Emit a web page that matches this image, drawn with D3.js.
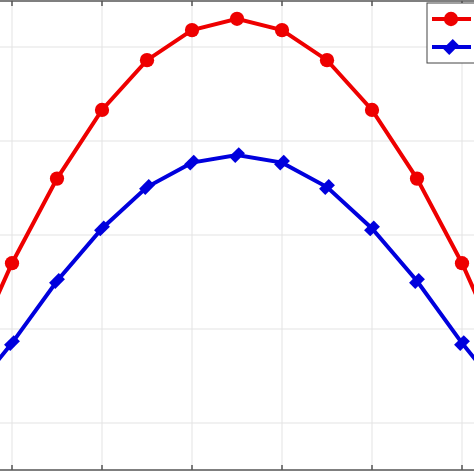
<!DOCTYPE html>
<meta charset="utf-8">
<style>body{margin:0;background:#fff}</style>
<script src="https://d3js.org/d3.v7.min.js"></script>
<div id="chart"></div>
<script>
    // data (x in half-grid steps, one point off each edge)
    var xs = [-0.5, 0, 0.5, 1, 1.5, 2, 2.5, 3, 3.5, 4, 4.5, 5, 5.5];
    var red = [1.13, 2.20, 3.10, 3.83, 4.36, 4.68, 4.80, 4.68, 4.36, 3.83, 3.10, 2.20, 1.13];
    var blue = [0.76, 1.35, 2.01, 2.57, 3.01, 3.27, 3.35, 3.27, 3.01, 2.57, 2.01, 1.35, 0.76];
    var xTicks = [0, 1, 2, 3, 4, 5];
    var yTicks = [0.5, 1.5, 2.5, 3.5, 4.5];

    var W = 474, H = 474;
    var svg = d3.select("#chart").append("svg").attr("width", W).attr("height", H);

    var x = d3.scaleLinear().domain([0, 5]).range([12, 462]);
    var y = d3.scaleLinear().domain([0, 5]).range([470, 0]);

    // grid
    svg.selectAll(".gx").data(xTicks).enter().append("line")
        .attr("x1", d => x(d)).attr("x2", d => x(d)).attr("y1", 0).attr("y2", 470)
        .attr("stroke", "#e3e3e3").attr("stroke-width", 1);
    svg.selectAll(".gy").data(yTicks).enter().append("line")
        .attr("x1", 0).attr("x2", W).attr("y1", d => y(d)).attr("y2", d => y(d))
        .attr("stroke", "#e3e3e3").attr("stroke-width", 1);

    // axes frame
    svg.append("line").attr("x1", 0).attr("x2", W).attr("y1", 1).attr("y2", 1)
        .attr("stroke", "#555").attr("stroke-width", 1.5);
    svg.append("line").attr("x1", 0).attr("x2", W).attr("y1", 470).attr("y2", 470)
        .attr("stroke", "#555").attr("stroke-width", 1.5);
    svg.selectAll(".tt").data(xTicks).enter().append("line")
        .attr("x1", d => x(d)).attr("x2", d => x(d)).attr("y1", 1).attr("y2", 6)
        .attr("stroke", "#555").attr("stroke-width", 1.5);
    svg.selectAll(".tb").data(xTicks).enter().append("line")
        .attr("x1", d => x(d)).attr("x2", d => x(d)).attr("y1", 465).attr("y2", 470)
        .attr("stroke", "#555").attr("stroke-width", 1.5);

    var line = d3.line().x((d, i) => x(xs[i])).y(d => y(d));

    function series(vals, color, sym, size) {
        svg.append("path").datum(vals).attr("d", line)
            .attr("fill", "none").attr("stroke", color).attr("stroke-width", 4);
        svg.selectAll(null).data(vals).enter().append("path")
            .attr("d", d3.symbol().type(sym).size(size))
            .attr("transform", (d, i) => "translate(" + x(xs[i]) + "," + y(d) + ")" + (sym === d3.symbolSquare ? "rotate(45)scale(0.8,1.25)" : ""))
            .attr("fill", color);
    }
    series(red, "#ee0000", d3.symbolCircle, 160);
    series(blue, "#0000dd", d3.symbolSquare, 120);

    // legend
    var lg = svg.append("g");
    lg.append("rect").attr("x", 427).attr("y", 3).attr("width", 52).attr("height", 60)
        .attr("fill", "#fff").attr("stroke", "#444").attr("stroke-width", 1);
    [[19, "#ee0000", d3.symbolCircle, 160], [47, "#0000dd", d3.symbolSquare, 120]].forEach(function(r) {
        lg.append("line").attr("x1", 432).attr("x2", 471).attr("y1", r[0]).attr("y2", r[0])
            .attr("stroke", r[1]).attr("stroke-width", 4);
        lg.append("path").attr("d", d3.symbol().type(r[2]).size(r[3]))
            .attr("transform", "translate(451," + r[0] + ")" + (r[2] === d3.symbolSquare ? "rotate(45)scale(0.8,1.25)" : ""))
            .attr("fill", r[1]);
    });
</script>
